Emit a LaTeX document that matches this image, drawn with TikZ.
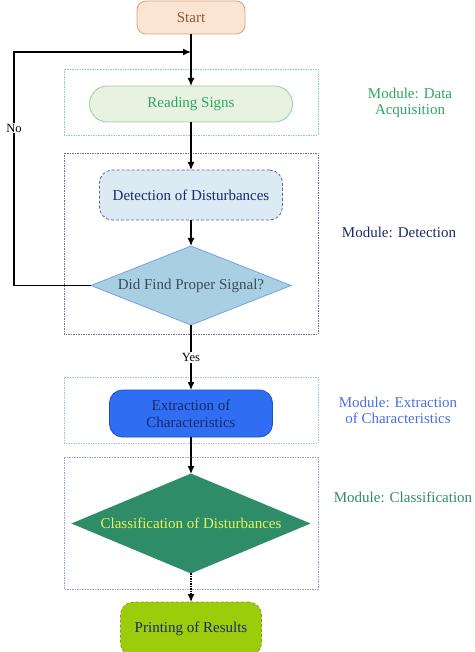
\documentclass[tikz,border=0pt]{standalone}
\usepackage{fontspec}
\setmainfont{Liberation Serif}
\usetikzlibrary{positioning,shapes.geometric,arrows.meta}

\definecolor{startfill}{HTML}{FCE4D2}
\definecolor{startdraw}{HTML}{D8A27C}
\definecolor{starttext}{HTML}{8A5A3C}
\definecolor{readfill}{HTML}{E9F2E1}
\definecolor{readdraw}{HTML}{8FD1A0}
\definecolor{readtext}{HTML}{2AA860}
\definecolor{detfill}{HTML}{DBEAF3}
\definecolor{detdraw}{HTML}{5A6A8A}
\definecolor{navytext}{HTML}{1B2A6B}
\definecolor{askfill}{HTML}{A8D0E2}
\definecolor{askdraw}{HTML}{7AA0E0}
\definecolor{asktext}{HTML}{3A4A5A}
\definecolor{extfill}{HTML}{2F6DF2}
\definecolor{extdraw}{HTML}{1C4FC8}
\definecolor{extlabel}{HTML}{4A6FE0}
\definecolor{clsfill}{HTML}{2E8C68}
\definecolor{clstext}{HTML}{E6F55A}
\definecolor{prtfill}{HTML}{9CCC0A}
\definecolor{prtdraw}{HTML}{8A9A20}
\definecolor{acqbox}{HTML}{7FD3C0}
\definecolor{detbox}{HTML}{6A7090}
\definecolor{extbox}{HTML}{A8C0D8}
\definecolor{clsbox}{HTML}{8F9FE0}

\begin{document}
\begin{tikzpicture}[x=1pt, y=-1pt,
        flow_node/.style={rectangle, rounded corners=10pt, line width=0.8pt, align=center, inner sep=0pt, outer sep=0pt, font=\fontsize{15}{17}\selectfont},
        ask_node/.style={diamond, line width=0.8pt, align=center, inner sep=0pt, outer sep=0pt, font=\fontsize{15}{17}\selectfont},
        module_box/.style={line width=0.6pt, dash pattern=on 1.5pt off 1pt},
        module_text/.style={align=center, font=\fontsize{15}{16}\selectfont},
        flow_arrow/.style={line width=1.3pt, -{Latex[length=8pt, width=7pt]}},
        answer/.style={fill=white, inner sep=1pt, font=\fontsize{12.5}{14}\selectfont}
        ]
            \useasboundingbox (0,0) rectangle (474,652);

            % module areas
            \draw[module_box, acqbox] (64,69)  rectangle (318,135);
            \draw[module_box, detbox] (64,153) rectangle (318,334);
            \draw[module_box, extbox] (64,377) rectangle (318,443);
            \draw[module_box, clsbox] (64,457) rectangle (318,589);

            % steps
            \node[flow_node, fill=startfill, draw=startdraw, text=starttext, minimum width=108pt, minimum height=33pt, rounded corners=9pt] (start) at (191,17.5) {Start};
            \node[flow_node, fill=readfill, draw=readdraw, text=readtext, minimum width=203pt, minimum height=36pt, rounded corners=18pt] (reading) [below = 52pt of start] {Reading Signs};
            \node[flow_node, fill=detfill, draw=detdraw, densely dashed, text=navytext, minimum width=183pt, minimum height=50pt, rounded corners=13pt] (detection) [below = 48pt of reading] {Detection of Disturbances};
            \node[ask_node, aspect=2.53, fill=askfill, draw=askdraw, text=asktext, minimum width=200pt, minimum height=79pt] (proper) [below = 26pt of detection] {Did Find Proper Signal?};
            \node[flow_node, fill=extfill, draw=extdraw, text=navytext, minimum width=163pt, minimum height=47pt, rounded corners=13pt] (extraction) [below = 65pt of proper] {Extraction of\\Characteristics};
            \node[ask_node, aspect=2.4, fill=clsfill, draw=clsfill, text=clstext, minimum width=237pt, minimum height=99pt] (classify) [below = 37pt of extraction] {Classification of Disturbances};
            \node[flow_node, fill=prtfill, draw=prtdraw, densely dashed, text=navytext, minimum width=141pt, minimum height=54pt, rounded corners=13pt] (printing) [below = 29pt of classify] {Printing of Results};

            % module names
            \node[module_text, text=readtext]  (acq_name) at (410,103) {Module: Data\\Acquisition};
            \node[module_text, text=navytext]  (det_name) at (399,232) {Module: Detection};
            \node[module_text, text=extlabel]  (ext_name) at (398,410) {Module: Extraction\\of Characteristics};
            \node[module_text, text=clsfill]   (cls_name) at (403,497) {Module: Classification};

            % loop back
            \coordinate (loop_top) at (14,52);
            \coordinate (merge) at (start |- loop_top);

            % arrows
            \draw[flow_arrow] (start) -- (reading);
            \draw[flow_arrow] (reading) -- (detection);
            \draw[flow_arrow] (detection) -- (proper);
            \draw[flow_arrow] (proper) -- node[answer] (yes) {Yes} (extraction);
            \draw[flow_arrow] (extraction) -- (classify);
            \draw[flow_arrow, dash pattern=on 1.5pt off 1pt] (classify) -- (printing);
            \draw[flow_arrow] (proper.west) -| (loop_top) -- (merge);
            \node[answer] (no) at (14,128) {No};
        \end{tikzpicture}
\end{document}
